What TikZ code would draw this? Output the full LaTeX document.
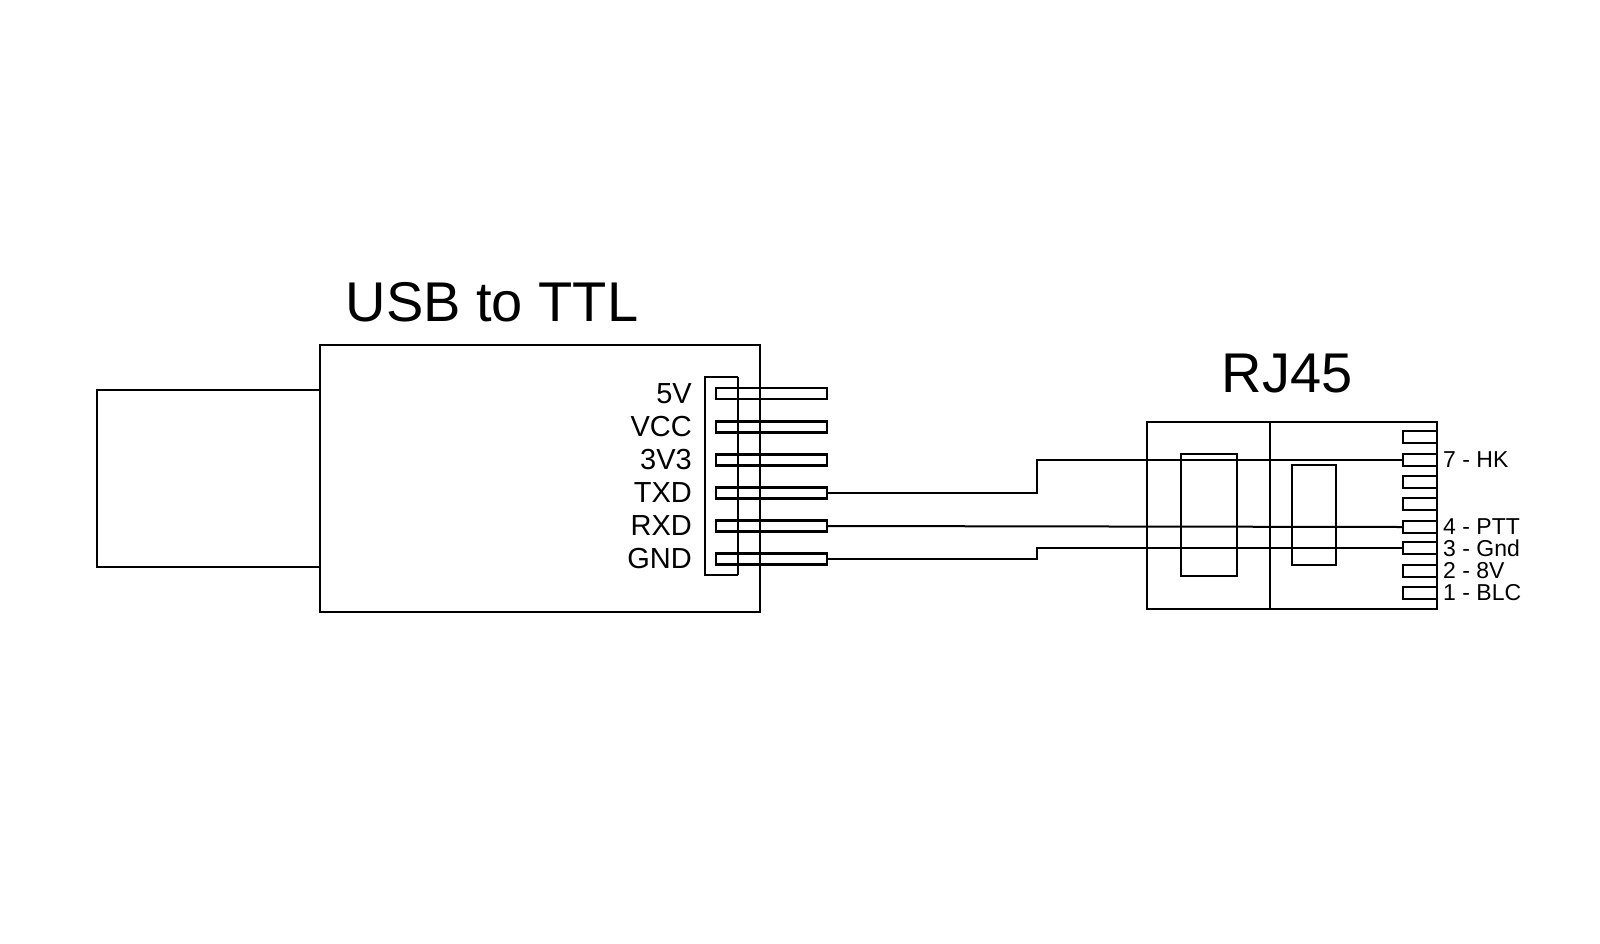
\documentclass[tikz,border=0pt]{standalone}
\usepackage{fontspec}
\setmainfont{Liberation Sans}
\begin{document}
\begin{tikzpicture}[x=1pt,y=-1pt,line width=2.4pt,
  pin/.style={draw,line width=2.2pt},
  wire/.style={line width=2pt},
  lbl/.style={font=\fontsize{29}{29}\selectfont,anchor=east,inner sep=0},
  rlbl/.style={font=\fontsize{23}{23}\selectfont,anchor=west,inner sep=0},
  title/.style={font=\fontsize{56}{56}\selectfont,inner sep=0}]
\useasboundingbox (0,0) rectangle (1600,943);
% USB plug and board
\draw (320,390) -- (97,390) -- (97,567) -- (320,567);
\draw (320,345) rectangle (760,612);
\node[title] (t1) at (492,302) {USB to TTL};
% header housing
\draw (738,377) -- (705,377) -- (705,575) -- (738,575);
\draw (738,377) -- (738,575);
\foreach \n/\y/\t in {p5/393.5/5V, pv/427/VCC, p3/460/3V3, pt/493/TXD, pr/526/RXD, pg/559/GND}{
  \draw[pin] (716,\y-5.5) rectangle (827,\y+5.5);
  \coordinate (\n) at (827,\y);
  \node[lbl] at (693,\y) {\t};
}
% RJ45
\node[title] (t2) at (1287,374) {RJ45};
\draw (1147,422) rectangle (1437,609);
\draw (1270,422) -- (1270,609);
\draw (1181,454) rectangle (1237,576);
\draw (1292,465) rectangle (1336,565);
\foreach \n/\y/\t in {j8/437/, j7/460/7 - HK, j6/482/, j5/504/, j4/527/4 - PTT, j3/548/3 - Gnd, j2/571/2 - 8V, j1/593/1 - BLC}{
  \draw[pin] (1437,\y-6) -- (1403,\y-6) -- (1403,\y+6) -- (1437,\y+6);
  \coordinate (\n) at (1403,\y);
  \node[rlbl] at (1442,\y) {\t};
}
% wires
\draw[wire] (pt) -- (1037,493) -- (1037,460) -- (j7);
\draw[wire] (pr) -- (j4);
\draw[wire] (pg) -- (1037,559) -- (1037,548) -- (j3);
\end{tikzpicture}
\end{document}
